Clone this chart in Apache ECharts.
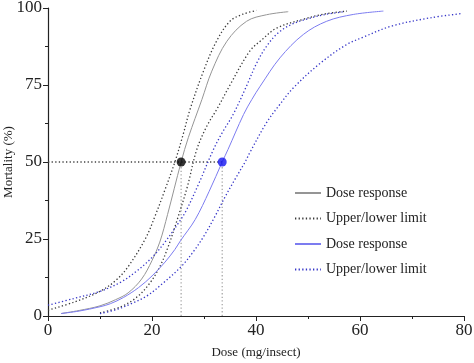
<!DOCTYPE html>
<html>
<head>
<meta charset="utf-8">
<script src="https://cdn.jsdelivr.net/npm/echarts@6/dist/echarts.min.js"></script>
<style>html,body{margin:0;padding:0;background:#fff}#c{width:474px;height:363px}</style>
</head>
<body>
<div id="c"></div>
<script>
// Gray (first) population
const grayResponse = [[2.5,0.8],[6,1.8],[10,3.3],[13,5.3],[15.4,7.5],[18,12],[20,18],[21.5,24],[23,33],[25.6,50],[27,58],[29.6,70.3],[31.5,79.5],[34.4,89.2],[38.2,95.7],[42,97.8],[46.2,98.8]];
const grayUpper = [[0,1.9],[5,4.5],[10,8],[13,11.5],[15.4,16],[18.7,25],[20.6,32.5],[22.5,41],[24.4,50],[26,59],[27.3,67],[29.9,79.5],[32.4,89.2],[35,95.7],[37.5,98],[40.1,99.2]];
const grayLower = [[10,1],[14,3],[17,6],[19.5,10.5],[21.5,16],[23,22],[24.8,31],[26.8,42],[28.6,54],[30.5,61.5],[32.6,67.5],[35,75],[38.8,86],[41,89.5],[44,93.5],[49,96.3],[53,98],[57.5,99]];
// Blue (second) population
const blueResponse = [[2.5,0.8],[6,1.6],[10,3],[12,4],[14.5,6],[17.4,9.2],[20,13],[22.5,17.5],[24.4,21.6],[25.5,24.5],[28.3,31.3],[31,40.5],[33.5,50],[34.6,54],[37.6,65.4],[39.2,70.3],[40.8,74.6],[44.6,83.8],[49.1,91.4],[53.6,95.7],[58.7,97.9],[64.5,99]];
const blueUpper = [[0,3.5],[5,5.7],[10,8],[14,11],[17,14.5],[20,19],[22.5,24],[25,30],[26.5,34],[29,43],[31.8,54],[33.5,59.5],[35.6,65.4],[38,74],[40.1,82],[42,87.5],[44.3,92],[47,94.8],[50,96.5],[53,97.8],[57,98.8]];
const blueLower = [[10,0.8],[13,2],[16,4],[19,6.5],[22,10.5],[25.7,16.2],[28,21],[30,26],[32,32],[34,38.5],[36,44.5],[37.9,50],[38.8,53],[42,62.7],[44.5,68.5],[47.2,74.1],[52.3,82],[57.4,88.1],[60.6,90.5],[66,94.1],[73.5,96.8],[79.6,98.2]];
// LD50 points
const ld50Gray = [25.6, 50];
const ld50Blue = [33.5, 50];
const xTicks = [0, 20, 40, 60, 80];
const yTicks = [0, 25, 50, 75, 100];
const legendNames = ['Dose response', 'Upper/lower limit', 'Dose response ', 'Upper/lower limit '];

const serif = '"Liberation Serif", "DejaVu Serif", serif';
const chart = echarts.init(document.getElementById('c'), null, {renderer: 'canvas'});

const DOT = [1.3, 2.3];
function curve(name, data, color, type, width) {
  return {name: name, type: 'line', data: data, smooth: 0.35, symbol: 'none',
    lineStyle: {color: color, type: type, width: width}, itemStyle: {color: color}, z: 3, silent: true};
}
const GS = '#959595', GD = '#3a3a3a', BS = '#7c7cf0', BD = '#3636c8';

chart.setOption({
  animation: false,
  grid: {left: 48, right: 10, top: 8, bottom: 47, containLabel: false, outerBoundsMode: 'none'},
  legend: {
    data: legendNames, orient: 'vertical', left: 289, top: 181,
    itemWidth: 26, itemHeight: 14, itemGap: 11.5,
    itemStyle: {opacity: 0},
    textStyle: {fontFamily: serif, fontSize: 14, color: '#222'}
  },
  xAxis: {
    type: 'value', min: xTicks[0], max: xTicks[xTicks.length-1], interval: 20,
    name: 'Dose (mg/insect)', nameLocation: 'middle', nameGap: 30, nameMoveOverlap: false,
    nameTextStyle: {fontFamily: serif, fontSize: 13, color: '#222'},
    axisLine: {lineStyle: {color: '#222', width: 1.2}},
    axisTick: {length: 5, lineStyle: {color: '#222'}},
    minorTick: {show: true, splitNumber: 2, length: 3, lineStyle: {color: '#222'}},
    splitLine: {show: false},
    axisLabel: {fontFamily: serif, fontSize: 17, color: '#222', margin: 6}
  },
  yAxis: {
    type: 'value', min: yTicks[0], max: yTicks[yTicks.length-1], interval: 25,
    name: 'Mortality (%)', nameLocation: 'middle', nameGap: 33, nameRotate: 90, nameMoveOverlap: false,
    nameTextStyle: {fontFamily: serif, fontSize: 13, color: '#222'},
    axisLine: {show: true, lineStyle: {color: '#222', width: 1.2}},
    axisTick: {show: true, length: 5, lineStyle: {color: '#222'}},
    minorTick: {show: true, splitNumber: 2, length: 3, lineStyle: {color: '#222'}},
    splitLine: {show: false},
    axisLabel: {fontFamily: serif, fontSize: 17, color: '#222', margin: 6}
  },
  series: [
    curve(legendNames[0], grayResponse, GS, 'solid', 1),
    curve(legendNames[1], grayUpper, GD, DOT, 1.3),
    curve(legendNames[1], grayLower, GD, DOT, 1.3),
    curve(legendNames[2], blueResponse, BS, 'solid', 1),
    curve(legendNames[3], blueUpper, BD, DOT, 1.3),
    curve(legendNames[3], blueLower, BD, DOT, 1.3),
    {type: 'line', data: [[0, ld50Gray[1]], [ld50Blue[0], ld50Blue[1]]], symbol: 'none',
      lineStyle: {color: '#444', type: DOT, width: 1.3}, z: 2, silent: true},
    {type: 'line', data: [[ld50Gray[0], 0], ld50Gray], symbol: 'none',
      lineStyle: {color: '#a0a0a0', type: DOT, width: 1.2}, z: 2, silent: true},
    {type: 'line', data: [[ld50Blue[0], 0], ld50Blue], symbol: 'none',
      lineStyle: {color: '#a0a0a0', type: DOT, width: 1.2}, z: 2, silent: true},
    {type: 'scatter', data: [ld50Gray], symbolSize: 9, itemStyle: {color: '#000'}, z: 5, silent: true},
    {type: 'scatter', data: [ld50Blue], symbolSize: 9, itemStyle: {color: '#1414f0'}, z: 5, silent: true}
  ]
});
</script>
</body>
</html>
